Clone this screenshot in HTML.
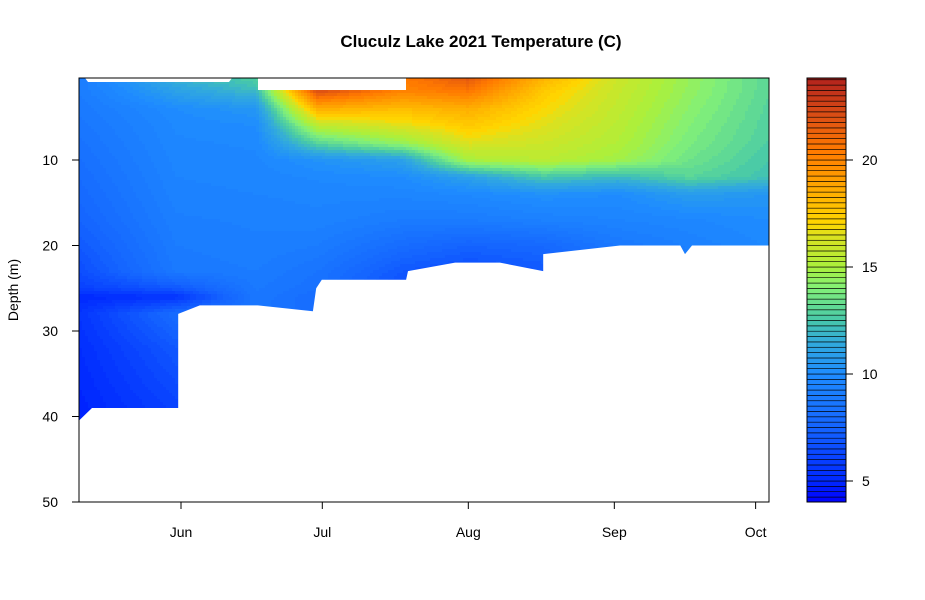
<!DOCTYPE html>
<html><head><meta charset="utf-8"><style>
body{margin:0;background:#fff}
svg{display:block;font-family:"Liberation Sans",Arial,sans-serif}
</style></head><body>
<svg id="chart" width="925" height="600" viewBox="0 0 925 600" xmlns="http://www.w3.org/2000/svg">
<text x="481" y="47" text-anchor="middle" font-size="17" font-weight="bold">Cluculz Lake 2021 Temperature (C)</text>
<g id="field"></g>
<g id="mask"></g>
<rect x="79" y="78" width="690" height="424" fill="none" stroke="#000" stroke-width="1"/>
<g id="axes"></g>
<text transform="translate(18,290) rotate(-90)" text-anchor="middle" font-size="14">Depth (m)</text>
<g id="cbar"></g>
</svg>
<script>
// ---- data ----
const sampleDays = [9, 30, 47, 60, 78, 92, 108, 124, 139, 156]; // days since May 1
const depths = [0, 2, 4, 6, 8, 10, 12, 14, 17, 20, 23, 25, 26, 28, 32, 40];
const tMay10 = [9,9,8.8,8.6,8.4,8.2,8,7.8,7.5,7,6.5,6,5,5.5,5.2,4.8];
const tMay31 = [12,11,10,9.8,9.7,9.6,9.5,9.4,9.2,9,8.8,7,5.5,8,7,6];
const tJun17 = [13,12,10.5,10,9.8,9.7,9.6,9.5,9.3,9.2,9,8.8,8.7,8.6,8.5,8.5];
const tJun30 = [23,22,18.5,15.5,13,10.3,9.8,9.6,9.4,9,8.5,8.3,8,8,8,8];
const tJul18 = [20.5,20,18,16.5,14.5,11,10,9.6,9,8,7,6.5,6.5,6.5,6.5,6.5];
const tAug1 = [22,20.5,18.5,17.5,16.5,15,11,9.8,9,7.5,6.5,6.5,6.5,6.5,6.5,6.5];
const tAug17 = [18.5,17.5,17,16.5,16,15.5,12.5,10.2,9.3,7.8,7,7,7,7,7,7];
const tSep2 = [16,15.8,15.6,15.4,15.2,14.8,12,10,9.5,8.8,8.5,8.5,8.5,8.5,8.5,8.5];
const tSep17 = [14.5,14.4,14.2,14,13.8,13.5,13,10.8,9.7,9.3,9,9,9,9,9,9];
const tOct4 = [13,13,12.9,12.8,12.7,12.5,12.3,10.5,10,9.8,9.6,9.6,9.6,9.6,9.6,9.6];
const profiles = [tMay10,tMay31,tJun17,tJun30,tJul18,tAug1,tAug17,tSep2,tSep17,tOct4];
const bottomDays = [9.3,12.1,30.4,30.4,35,47.3,59,59.7,60.9,78.8,79.2,89.2,98.7,107.9,107.9,124.2,137,138,139.5,155.8];
const bottomDepths = [40.5,39,39,28,27,27,27.7,25,24,24,23,22,22,23,21,20,20,21,20,20];
const monthLabels = ["Jun","Jul","Aug","Sep","Oct"];
const monthDays = [31,61,92,123,153];
const depthTicks = [10,20,30,40,50];
const cbarTicks = [5,10,15,20];
const levelMin = 4, levelMax = 24, levelStep = 0.25;

// ---- scales ----
const X = d => 181 + (d - 31) * 4.71;
const Y = z => 74.5 + z * 8.55;
const D = x => 31 + (x - 181) / 4.71;
const Z = y => (y - 74.5) / 8.55;
const CY = t => Math.max(78, 481 - (t - 5) * 21.4);
const NS = "http://www.w3.org/2000/svg";
function mk(tag, attrs, parent){const e=document.createElementNS(NS,tag);for(const k in attrs)e.setAttribute(k,attrs[k]);parent.appendChild(e);return e;}

const stops = [[4,[0,0,255]],[5,[0,40,255]],[7.5,[20,100,255]],[10,[30,140,255]],[11.5,[50,170,220]],[12.5,[70,200,170]],[14,[130,240,120]],[15,[170,240,60]],[16.5,[220,225,30]],[17,[255,215,0]],[19,[255,160,0]],[20.5,[255,120,0]],[22,[220,80,20]],[24,[175,30,30]]];
function color(t){
  if(t<=stops[0][0])return `rgb(${stops[0][1]})`;
  for(let i=1;i<stops.length;i++){if(t<=stops[i][0]){const a=stops[i-1],b=stops[i],f=(t-a[0])/(b[0]-a[0]);return `rgb(${a[1].map((v,k)=>Math.round(v+(b[1][k]-v)*f)).join(',')})`;}}
  return `rgb(${stops[stops.length-1][1]})`;
}
function frac(xs, x){
  if(x<=xs[0])return 0; if(x>=xs[xs.length-1])return xs.length-1.0001;
  for(let i=1;i<xs.length;i++)if(x<=xs[i])return i-1+(x-xs[i-1])/(xs[i]-xs[i-1]);
}
function temp(d,z){
  const fi=frac(sampleDays,d),i=Math.floor(fi),fd=fi-i;
  const fj=frac(depths,z),j=Math.floor(fj),fz=fj-j;
  const i2=Math.min(i+1,sampleDays.length-1),j2=Math.min(j+1,depths.length-1);
  const a=profiles[i][j]*(1-fz)+profiles[i][j2]*fz;
  const b=profiles[i2][j]*(1-fz)+profiles[i2][j2]*fz;
  return a*(1-fd)+b*fd;
}
// ---- field ----
const field=document.getElementById('field');
const cw=3,ch=3;
for(let y=78;y<502;y+=ch){
  let runX=null,runC=null;
  for(let x=79;x<=769;x+=cw){
    let c=null;
    if(x<769){let t=temp(D(x+cw/2),Z(y+ch/2));t=Math.floor((t-levelMin)/levelStep)*levelStep+levelMin+levelStep/2;c=color(t);}
    if(c!==runC){
      if(runC!==null){const r=mk('rect',{x:runX,y:y,width:Math.min(x,769)-runX,height:Math.min(ch,502-y)+0.5,fill:runC},field);
        
        }
      runX=x;runC=c;
    }
  }
}
// ---- mask ----
const mask=document.getElementById('mask');
let pts=bottomDays.map((d,i)=>`${X(d).toFixed(1)},${Y(bottomDepths[i]).toFixed(1)}`);
pts.push(`770,503`,`78,503`,`78,${Y(bottomDepths[0])}`);
const poly=mk('polygon',{points:pts.join(' '),fill:'#fff'},mask);


const w1=mk('polygon',{points:`85,78 232,78 229,82 88,82`,fill:'#fff'},mask);


const w2=mk('rect',{x:258,y:78,width:148,height:12,fill:'#fff'},mask);


// ---- axes ----
const axes=document.getElementById('axes');
monthLabels.forEach((m,i)=>{const x=X(monthDays[i]);
  const l=mk('line',{x1:x,x2:x,y1:502,y2:509,stroke:'#000'},axes);
  
  
  const t=mk('text',{x:x,y:537,'text-anchor':'middle','font-size':14},axes);t.textContent=m;
  
  });
depthTicks.forEach(z=>{const y=Y(z);
  const l=mk('line',{x1:72,x2:79,y1:y,y2:y,stroke:'#000'},axes);
  
  
  const t=mk('text',{x:58,y:y+5,'text-anchor':'end','font-size':14},axes);t.textContent=z;
  
  });
// ---- colorbar ----
const cb=document.getElementById('cbar');
for(let v=levelMin;v<levelMax-1e-9;v+=levelStep){
  const y0=v<=levelMin?502:CY(v);
  const r=mk('rect',{x:807,y:CY(v+levelStep),width:39,height:y0-CY(v+levelStep),fill:color(v+levelStep/2),stroke:'#000','stroke-width':0.6},cb);
  
  
}
mk('rect',{x:807,y:78,width:39,height:424,fill:'none',stroke:'#000'},cb);
cbarTicks.forEach(v=>{const y=CY(v);
  const l=mk('line',{x1:846,x2:853,y1:y,y2:y,stroke:'#000'},cb);
  
  
  const t=mk('text',{x:862,y:y+5,'font-size':14},cb);t.textContent=v;
  
  });
</script>
</body></html>
